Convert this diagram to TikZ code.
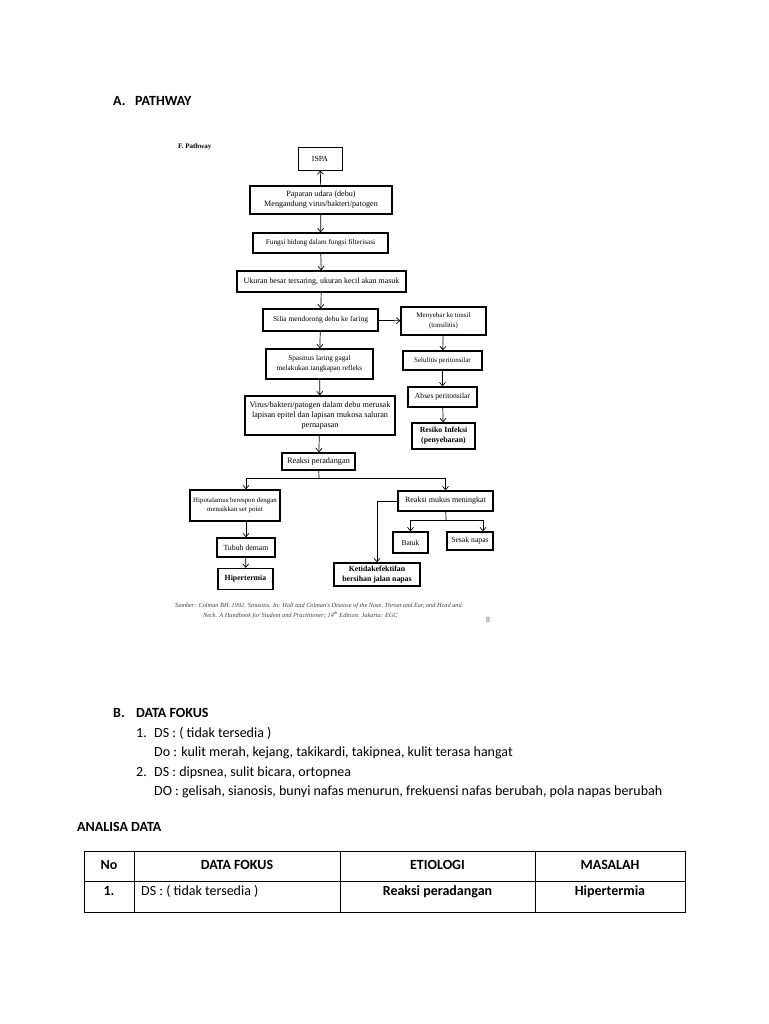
\documentclass[tikz,border=0pt]{standalone}
\usepackage{fontspec}
\setmainfont{Carlito}
\newfontfamily\diagfont{Liberation Serif}
\usetikzlibrary{arrows.meta,positioning}

\tikzset{
  box/.style={draw,line width=1.3pt,font=\diagfont\fontsize{7.8}{10}\selectfont,align=center,inner sep=1pt},
  fs/.style={font=\diagfont\fontsize{#1}{10}\selectfont},
  bfs/.style={font=\diagfont\bfseries\fontsize{#1}{10}\selectfont},
  flow/.style={-{Straight Barb[length=3.5pt,width=6pt]},line width=0.7pt},
  heading/.style={font=\bfseries\fontsize{14}{16}\selectfont,anchor=base west,inner sep=0pt},
  body/.style={font=\fontsize{14}{16}\selectfont,anchor=base west,inner sep=0pt},
  cell/.style={font=\bfseries\fontsize{14}{16}\selectfont,anchor=base,inner sep=0pt}
}

\begin{document}
\begin{tikzpicture}[x=1pt,y=-1pt]
\useasboundingbox[fill=white] (0,0) rectangle (768,1024);

\node[heading] (hA) at (113,106) {A.};
\node[heading] (hAt) at (135,106) {PATHWAY};

% pathway
\node[anchor=base west,inner sep=0pt,font=\diagfont\bfseries\fontsize{7}{8}\selectfont] (ftitle) at (178,149) {F. Pathway};

\node[box,line width=0.8pt,minimum width=44,minimum height=23] (ispa) at (320,158.5) {ISPA};
\node[box,fs=8.1,minimum width=142,minimum height=28] (paparan) at (321,200) {Paparan udara (debu)\\Mengandung virus/bakteri/patogen};
\node[box,fs=7.2,minimum width=135,minimum height=20] (fungsi) at (320.5,243) {Fungsi hidung dalam fungsi filterisasi};
\node[box,fs=7.95,minimum width=169,minimum height=21] (ukuran) at (321.5,281.5) {Ukuran besar tersaring, ukuran kecil akan masuk};
\node[box,fs=7.5,minimum width=115,minimum height=22] (silia) at (320.5,320) {Silia mendorong debu ke faring};
\node[box,fs=7.3,minimum width=107,minimum height=30] (spasmus) at (319.5,364) {Spasmus laring gagal\\melakukan tangkapan refleks};
\node[box,fs=8.2,minimum width=150,minimum height=39] (virus) at (320,415.5) {Virus/bakteri/patogen dalam debu merusak\\lapisan epitel dan lapisan mukosa saluran\\pernapasan};
\node[box,fs=8.3,minimum width=73,minimum height=17] (peradangan) at (318.5,461.5) {Reaksi peradangan};

\node[box,fs=7,minimum width=85,minimum height=28] (menyebar) at (443.5,321) {Menyebar ke tonsil\\(tonsilitis)};
\node[box,fs=7,minimum width=79,minimum height=19] (selulitis) at (442.5,360.5) {Selulitis peritonsilar};
\node[box,fs=7.6,minimum width=69,minimum height=20] (abses) at (442.5,397) {Abses peritonsilar};
\node[box,bfs=7.8,minimum width=63,minimum height=26] (resiko) at (443.5,436) {Resiko Infeksi\\(penyebaran)};

\node[box,font=\diagfont\fontsize{6.9}{9.5}\selectfont,minimum width=90,minimum height=31] (hipotalamus) at (235,505.5) {Hipotalamus berespon dengan\\menaikkan set point};
\node[box,fs=7.8,minimum width=58,minimum height=19] (tubuh) at (246,547.5) {Tubuh demam};
\node[box,bfs=7.8,minimum width=55,minimum height=21] (hipertermia) at (245.5,579) {Hipertermia};

\node[box,fs=8,minimum width=95,minimum height=20] (mukus) at (445.5,501) {Reaksi mukus meningkat};
\node[box,fs=7.5,minimum width=35,minimum height=21] (batuk) at (410.5,542.5) {Batuk};
\node[box,fs=7.7,minimum width=46,minimum height=18] (sesak) at (470,541) {Sesak napas};
\node[box,bfs=7.8,minimum width=86,minimum height=23] (ketidak) at (377,574.5) {Ketidakefektifan\\bersihan jalan napas};

\draw[flow] (paparan) -- (ispa);
\draw[flow] (paparan) -- (fungsi);
\draw[flow] (fungsi) -- (ukuran);
\draw[flow] (ukuran) -- (silia);
\draw[flow] (silia) -- (spasmus);
\draw[flow] (spasmus) -- (virus);
\draw[flow] (virus) -- (peradangan);
\draw[flow] (silia) -- (menyebar);
\draw[flow] (menyebar) -- (selulitis);
\draw[flow] (selulitis) -- (abses);
\draw[flow] (abses) -- (resiko);

\coordinate (fork) at (319,478);
\draw[line width=0.7pt] (peradangan) -- (fork);
\draw[flow] (fork) -| (tubuh.north |- hipotalamus.north);
\draw[flow] (fork) -| (mukus.north);
\draw[flow] (tubuh.north |- hipotalamus.south) -- (tubuh);
\draw[flow] (tubuh) -- (hipertermia);
\draw[flow] (mukus.west) -| (ketidak.north);
\coordinate (forkb) at (446,520);
\draw[line width=0.7pt] (mukus) -- (forkb);
\draw[flow] (forkb) -| (batuk.north);
\draw[flow] (forkb) -| ([xshift=13]sesak.north);

\node[anchor=base west,inner sep=0pt,text=black!75,font=\diagfont\itshape\fontsize{6.3}{7}\selectfont] (src1) at (175,607) {Sumber: Colman BH. 1992. Sinusitis. In: Hall and Colman's Disease of the Nose, Throat and Ear, and Head and};
\node[anchor=base west,inner sep=0pt,text=black!75,font=\diagfont\itshape\fontsize{6.3}{7}\selectfont] (src2) at (203,617) {Neck. A Handbook for Student and Practitioner; 14\textsuperscript{th} Edition. Jakarta: EGC};
\node[anchor=base,inner sep=0pt,text=black!60,font=\sffamily\fontsize{8}{9}\selectfont] (page) at (488,622) {8};

% data fokus
\node[heading] (hB) at (113,717) {B.};
\node[heading] (hBt) at (136,717) {DATA FOKUS};
\node[body] (n1) at (136,737) {1.};
\node[body] (ds1) at (154,737) {DS : ( tidak tersedia )};
\node[body] (do1) at (154,756) {Do : kulit merah, kejang, takikardi, takipnea, kulit terasa hangat};
\node[body] (n2) at (136,776) {2.};
\node[body] (ds2) at (154,776) {DS : dipsnea, sulit bicara, ortopnea};
\node[body] (do2) at (154,795) {DO : gelisah, sianosis, bunyi nafas menurun, frekuensi nafas berubah, pola napas berubah};

\node[heading] (hC) at (77,831) {ANALISA DATA};

% table
\draw[line width=0.8pt] (84,851) rectangle (685,912);
\draw[line width=0.8pt] (84,881) -- (685,881);
\foreach \cx in {134,340,535}
  \draw[line width=0.8pt] (\cx,851) -- (\cx,912);
\node[cell] (tno) at (109,869) {No};
\node[cell] (tdata) at (237,869) {DATA FOKUS};
\node[cell] (tetio) at (437.5,869) {ETIOLOGI};
\node[cell] (tmas) at (610,869) {MASALAH};
\node[cell] (rno) at (109,895) {1.};
\node[body] (rdata) at (141,895) {DS : ( tidak tersedia )};
\node[cell] (retio) at (437.5,895) {Reaksi peradangan};
\node[cell] (rmas) at (610,895) {Hipertermia};
\end{tikzpicture}
\end{document}
